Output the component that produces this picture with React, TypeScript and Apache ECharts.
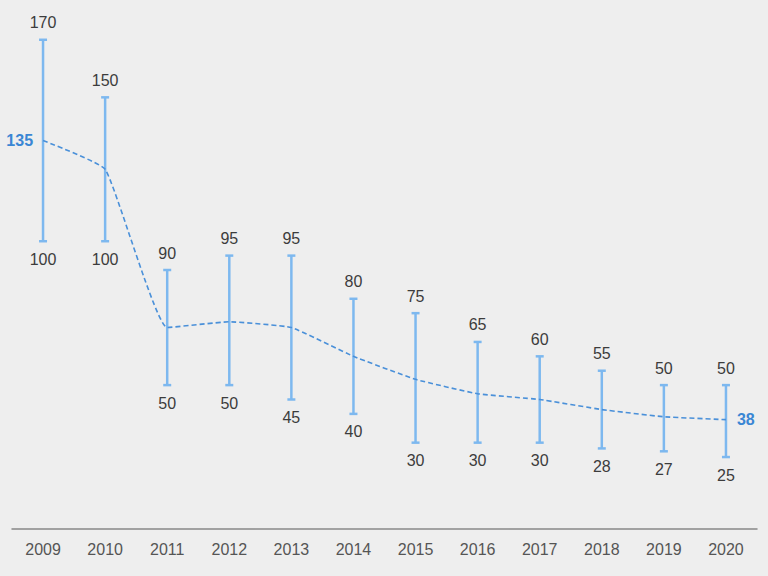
import { useRef, useEffect } from 'react'
import * as echarts from 'echarts';

const years = ['2009', '2010', '2011', '2012', '2013', '2014', '2015', '2016', '2017', '2018', '2019', '2020'];
const highs = [170, 150, 90, 95, 95, 80, 75, 65, 60, 55, 50, 50];
const lows = [100, 100, 50, 50, 45, 40, 30, 30, 30, 28, 27, 25];
const actual = [135, 125, 70, 72, 70, 60, 52, 47, 45, 41.5, 39, 38];

const FONT = "'Liberation Sans', Arial, sans-serif";
const textColor = '#3c3c3c';
const barColor = '#7db8ef';
const lineColor = '#4a90d9';
const endLabelColor = '#3a86d4';

export default function App() {
  const cDom = useRef<HTMLDivElement>(null)

  useEffect(() => {
    document.body.style.margin = '0';
    if (!cDom.current) return;
    const chart = echarts.init(cDom.current, null, { renderer: 'svg' });

    // 误差线 + 上下标签
    const renderItem = (params: any, api: any) => {
      const idx = api.value(0);
      const lo = api.value(1);
      const hi = api.value(2);
      const top = api.coord([idx, hi]);
      const bot = api.coord([idx, lo]);
      const cap = 4;
      const stroke = { stroke: barColor, lineWidth: 2.5 };
      return {
        type: 'group',
        children: [
          { type: 'line', shape: { x1: top[0], y1: top[1], x2: bot[0], y2: bot[1] }, style: stroke },
          { type: 'line', shape: { x1: top[0] - cap, y1: top[1], x2: top[0] + cap, y2: top[1] }, style: stroke },
          { type: 'line', shape: { x1: bot[0] - cap, y1: bot[1], x2: bot[0] + cap, y2: bot[1] }, style: stroke },
          {
            type: 'text',
            style: { text: String(hi), x: top[0], y: top[1] - 9, align: 'center', verticalAlign: 'bottom', fill: textColor, fontSize: 16, fontFamily: FONT },
          },
          {
            type: 'text',
            style: { text: String(lo), x: bot[0], y: bot[1] + 10, align: 'center', verticalAlign: 'top', fill: textColor, fontSize: 16, fontFamily: FONT },
          },
        ],
      };
    };

    // 首尾两个点的数值标签
    const endLabels = [
      { value: [0, actual[0]], label: { position: 'left', distance: 9 } },
      { value: [actual.length - 1, actual[actual.length - 1]], label: { position: 'right', distance: 10 } },
    ];

    chart.setOption({
      animation: false,
      backgroundColor: '#eeeeee',
      grid: { left: 12, right: 11, top: 11, bottom: 47 },
      xAxis: {
        type: 'category',
        data: years,
        axisTick: { show: false },
        axisLine: { lineStyle: { color: '#888888', width: 1.5 } },
        axisLabel: { color: '#555555', fontSize: 16, fontFamily: FONT, margin: 12 },
      },
      yAxis: {
        type: 'value',
        min: 0,
        max: 180,
        show: false,
        splitLine: { show: false },
      },
      series: [
        {
          type: 'custom',
          renderItem,
          data: years.map((_, i) => [i, lows[i], highs[i]]),
          z: 2,
        },
        {
          type: 'line',
          data: actual,
          smooth: 0.12,
          symbol: 'none',
          lineStyle: { color: lineColor, width: 1.6, type: [5, 3] },
          z: 3,
        },
        {
          type: 'scatter',
          data: endLabels,
          symbolSize: 2,
          itemStyle: { color: 'rgba(0,0,0,0)', opacity: 1 },
          label: {
            show: true,
            formatter: (p: any) => String(p.value[1]),
            color: endLabelColor,
            fontWeight: 'bold',
            fontSize: 16,
            fontFamily: FONT,
          },
          z: 4,
        },
      ],
    });

    return () => {
      chart.dispose();
    };
  }, []);

  return <div ref={cDom} style={{ width: 768, height: 576 }}></div>
}
